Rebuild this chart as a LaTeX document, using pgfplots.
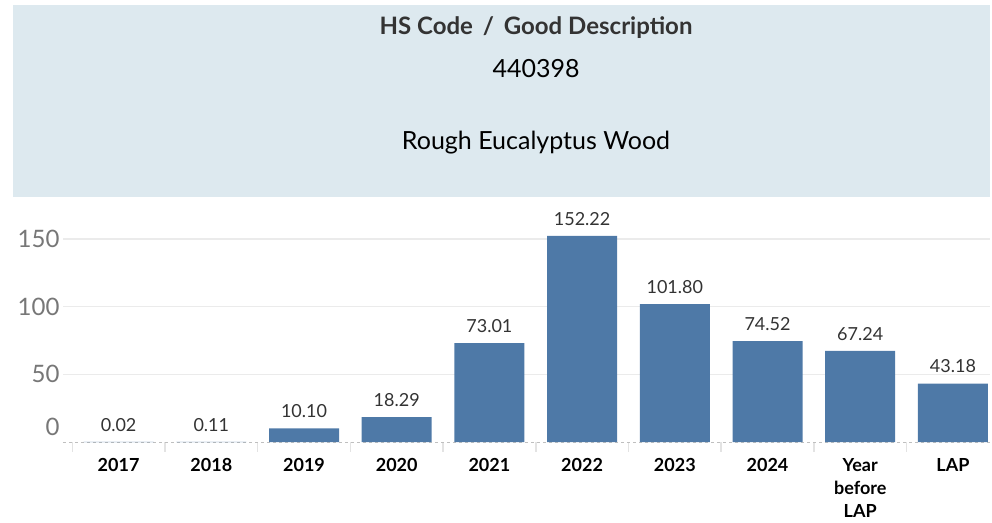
\documentclass[border=0pt]{standalone}
\usepackage{pgfplots}
\pgfplotsset{compat=1.18}
\usepackage{fontspec}
\setmainfont{Lato}

\definecolor{barblue}{HTML}{4E79A7}
\definecolor{headerbg}{HTML}{DDE9EF}
\definecolor{titlegray}{HTML}{333333}
\definecolor{tickgray}{HTML}{777777}
\definecolor{gridgray}{HTML}{EBEBEB}
\definecolor{sepgray}{HTML}{E3E3E3}
\definecolor{labelgray}{HTML}{333333}

\begin{document}
\begin{tikzpicture}
% header panel
\fill[headerbg] (-50pt,245pt) rectangle (927pt,437pt);
\node[font=\fontsize{24}{28}\selectfont\bfseries, text=titlegray] at (473pt,414pt) {HS Code\, /\, Good Description};
\node[font=\fontsize{25}{28}\selectfont, text=black] at (473pt,373pt) {440398};
\node[font=\fontsize{25}{28}\selectfont, text=black] at (473pt,299pt) {Rough Eucalyptus Wood};

\begin{axis}[
    at={(0,0)}, anchor=south west,
    scale only axis,
    width=927pt, height=237pt,
    xmin=-0.6, xmax=9.4,
    ymin=0, ymax=175,
    axis line style={draw=none},
    ybar, bar width=70pt,
    xtick={0,...,9},
    xticklabels={2017,2018,2019,2020,2021,2022,2023,2024,{Year\\before\\LAP},LAP},
    xticklabel style={align=center, font=\bfseries\fontsize{18}{23}\selectfont, text=black, yshift=-13pt},
    minor xtick={-0.5,0.5,...,8.5},
    xtick pos=bottom, ytick pos=left,
    major tick length=0pt,
    minor tick length=10pt,
    tick align=outside,
    minor tick style={draw=sepgray, line width=1.5pt},
    ytick={50,100,150},
    ymajorgrids,
    grid style={draw=gridgray, line width=1.5pt},
    yticklabel style={font=\fontsize{24}{28}\selectfont, text=tickgray},
    /pgf/number format/assume math mode=true,
    extra y ticks={0},
    extra y tick style={grid=none, yticklabel style={yshift=15pt}},
    nodes near coords={\pgfmathprintnumber[fixed,fixed zerofill,precision=2,assume math mode=true]{\pgfplotspointmeta}},
    nodes near coords style={font=\fontsize{18}{20}\selectfont, text=labelgray, anchor=south, yshift=7pt},
]
\draw[draw=gray!50, dashed, line width=0.8pt] (axis cs:-0.6,0) -- (axis cs:9.4,0);
\addplot[fill=barblue, draw=none] coordinates {
    (0,0.02) (1,0.11) (2,10.10) (3,18.29) (4,73.01)
    (5,152.22) (6,101.80) (7,74.52) (8,67.24) (9,43.18)
};
\end{axis}
\pgfresetboundingbox
\useasboundingbox (-63pt,-80pt) rectangle (929pt,442pt);
\end{tikzpicture}
\end{document}
